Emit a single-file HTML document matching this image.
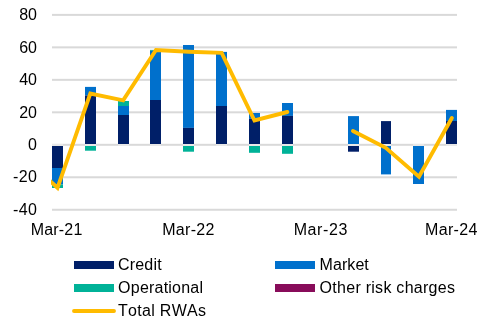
<!DOCTYPE html>
<html><head><meta charset="utf-8"><style>
html,body{margin:0;padding:0;background:#fff;width:494px;height:328px;overflow:hidden}
svg{display:block;will-change:transform}
text{font-family:"Liberation Sans",sans-serif;font-size:16px;fill:#000;font-kerning:none;text-rendering:optimizeSpeed}
</style></head><body>
<svg width="494" height="328" viewBox="0 0 494 328">
<defs><clipPath id="pa"><rect x="51" y="0" width="406" height="220"/></clipPath></defs>
<rect x="52" y="13.88" width="405" height="2" fill="#D9D9D9"/>
<rect x="52" y="46.36" width="405" height="2" fill="#D9D9D9"/>
<rect x="52" y="78.84" width="405" height="2" fill="#D9D9D9"/>
<rect x="52" y="111.32" width="405" height="2" fill="#D9D9D9"/>
<rect x="52" y="143.80" width="405" height="2" fill="#D9D9D9"/>
<rect x="52" y="176.28" width="405" height="2" fill="#D9D9D9"/>
<rect x="52" y="208.76" width="405" height="2" fill="#D9D9D9"/>
<rect x="52" y="146.00" width="11.0" height="22.00" fill="#001F68"/>
<rect x="52" y="168.00" width="11.0" height="16.40" fill="#0070CC"/>
<rect x="52" y="184.40" width="11.0" height="3.60" fill="#00B298"/>
<rect x="52" y="144.0" width="11.0" height="2.0" fill="#E8E8E8"/>
<rect x="85" y="86.90" width="11.0" height="8.60" fill="#0070CC"/>
<rect x="85" y="95.50" width="11.0" height="48.50" fill="#001F68"/>
<rect x="85" y="146.00" width="11.0" height="4.70" fill="#00B298"/>
<rect x="85" y="144.0" width="11.0" height="2.0" fill="#E8E8E8"/>
<rect x="118" y="101.00" width="11.0" height="5.00" fill="#00B298"/>
<rect x="118" y="106.00" width="11.0" height="9.00" fill="#0070CC"/>
<rect x="118" y="115.00" width="11.0" height="29.00" fill="#001F68"/>
<rect x="118" y="144.0" width="11.0" height="2.0" fill="#E8E8E8"/>
<rect x="150" y="49.90" width="11.0" height="0.90" fill="#00B298"/>
<rect x="150" y="50.80" width="11.0" height="49.20" fill="#0070CC"/>
<rect x="150" y="100.00" width="11.0" height="44.00" fill="#001F68"/>
<rect x="150" y="144.0" width="11.0" height="2.0" fill="#E8E8E8"/>
<rect x="183" y="45.00" width="11.0" height="82.90" fill="#0070CC"/>
<rect x="183" y="127.90" width="11.0" height="16.10" fill="#001F68"/>
<rect x="183" y="146.00" width="11.0" height="5.70" fill="#00B298"/>
<rect x="183" y="144.0" width="11.0" height="2.0" fill="#E8E8E8"/>
<rect x="216" y="51.90" width="11.0" height="54.10" fill="#0070CC"/>
<rect x="216" y="106.00" width="11.0" height="38.00" fill="#001F68"/>
<rect x="216" y="144.0" width="11.0" height="2.0" fill="#E8E8E8"/>
<rect x="249" y="113.00" width="11.0" height="5.80" fill="#0070CC"/>
<rect x="249" y="118.80" width="11.0" height="25.20" fill="#001F68"/>
<rect x="249" y="146.00" width="11.0" height="6.80" fill="#00B298"/>
<rect x="249" y="144.0" width="11.0" height="2.0" fill="#E8E8E8"/>
<rect x="282" y="103.00" width="11.0" height="12.90" fill="#0070CC"/>
<rect x="282" y="115.90" width="11.0" height="28.10" fill="#001F68"/>
<rect x="282" y="146.00" width="11.0" height="7.80" fill="#00B298"/>
<rect x="282" y="144.0" width="11.0" height="2.0" fill="#E8E8E8"/>
<rect x="348" y="116.10" width="11.0" height="27.90" fill="#0070CC"/>
<rect x="348" y="146.00" width="11.0" height="5.70" fill="#001F68"/>
<rect x="348" y="144.0" width="11.0" height="2.0" fill="#E8E8E8"/>
<rect x="381" y="121.10" width="10" height="22.90" fill="#001F68"/>
<rect x="381" y="146.00" width="10" height="28.40" fill="#0070CC"/>
<rect x="381" y="144.0" width="10" height="2.0" fill="#E8E8E8"/>
<rect x="413" y="146.00" width="11.0" height="38.00" fill="#0070CC"/>
<rect x="413" y="144.0" width="11.0" height="2.0" fill="#E8E8E8"/>
<rect x="446" y="109.90" width="11.0" height="11.10" fill="#0070CC"/>
<rect x="446" y="121.00" width="11.0" height="23.00" fill="#001F68"/>
<rect x="446" y="144.0" width="11.0" height="2.0" fill="#E8E8E8"/>
<g clip-path="url(#pa)">
<polyline points="24.67,158.00 57.50,187.80 90.33,93.50 123.16,100.30 155.99,50.00 188.82,51.70 221.65,52.80 254.48,120.50 287.31,112.00" fill="none" stroke="#FFBB00" stroke-width="3.9" stroke-linejoin="miter" stroke-linecap="round"/>
<polyline points="352.97,131.00 385.80,147.80 418.96,176.60 451.85,118.00" fill="none" stroke="#FFBB00" stroke-width="3.9" stroke-linejoin="miter" stroke-linecap="round"/>
</g>
<text x="37" y="20.08" text-anchor="end">80</text>
<text x="37" y="52.56" text-anchor="end">60</text>
<text x="37" y="85.04" text-anchor="end">40</text>
<text x="37" y="117.52" text-anchor="end">20</text>
<text x="37" y="150.00" text-anchor="end">0</text>
<text x="37" y="182.48" text-anchor="end" textLength="24.0" lengthAdjust="spacing">-20</text>
<text x="37" y="214.96" text-anchor="end" textLength="24.0" lengthAdjust="spacing">-40</text>
<text x="56.50" y="235" text-anchor="middle" textLength="51.69" lengthAdjust="spacing">Mar-21</text>
<text x="188.32" y="235" text-anchor="middle" textLength="52.29" lengthAdjust="spacing">Mar-22</text>
<text x="320.54" y="235" text-anchor="middle" textLength="53.69" lengthAdjust="spacing">Mar-23</text>
<text x="451.16" y="235" text-anchor="middle" textLength="52.29" lengthAdjust="spacing">Mar-24</text>
<rect x="74" y="261" width="40" height="8" fill="#001F68"/>
<text x="118.1" y="270.00" textLength="43.49" lengthAdjust="spacing">Credit</text>
<rect x="275" y="261" width="40" height="8" fill="#0070CC"/>
<text x="319.6" y="270.00" textLength="49.21" lengthAdjust="spacing">Market</text>
<rect x="74" y="284" width="40" height="8" fill="#00B298"/>
<text x="118.1" y="293.00" textLength="84.92" lengthAdjust="spacing">Operational</text>
<rect x="275" y="284" width="40" height="8" fill="#880C5A"/>
<text x="319.6" y="293.00" textLength="135.32" lengthAdjust="spacing">Other risk charges</text>
<line x1="74" y1="311" x2="114" y2="311" stroke="#FFBB00" stroke-width="3.9" stroke-linecap="round"/>
<text x="118.0" y="316.00" textLength="88.04" lengthAdjust="spacing">Total RWAs</text>
</svg>
</body></html>
